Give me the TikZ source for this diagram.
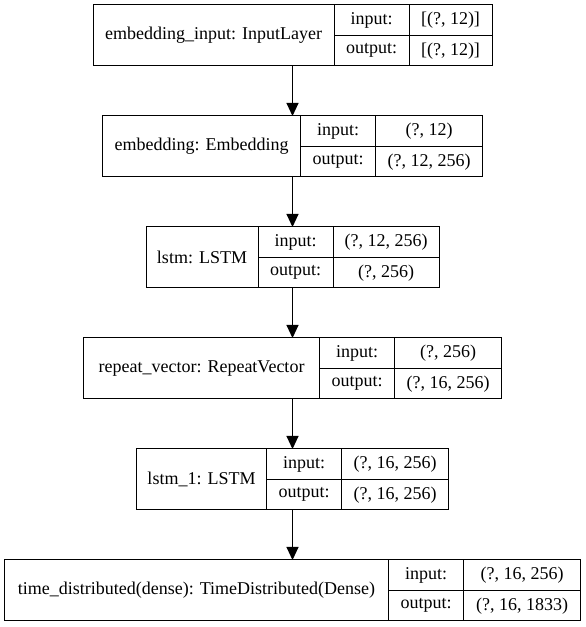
\documentclass[tikz,border=0pt]{standalone}
\usepackage{fontspec}
\setmainfont{Liberation Serif}
\usetikzlibrary{arrows.meta,positioning}

\begin{document}
\begin{tikzpicture}[->,>={Triangle[length=9.75pt,width=9pt]},node distance=37.5pt,
  line width=0.75pt,
  layer/.style={draw,rectangle,inner sep=0pt,outer sep=0pt,minimum height=45.75pt},
  name cell/.style={draw,rectangle,inner sep=0pt,outer sep=0pt,minimum height=45.75pt,font=\fontsize{13.5pt}{16pt}\selectfont},
  key cell/.style={draw,rectangle,inner sep=0pt,outer sep=0pt,minimum width=56.25pt,minimum height=22.875pt,font=\fontsize{13.5pt}{16pt}\selectfont},
  val cell/.style={key cell}]

  \useasboundingbox (0,0) rectangle (438.75pt,470.25pt);

  % embedding_input
  \node[layer, minimum width=299.25pt] (inL) at (219.375pt,443.625pt) {};
  \node[name cell, minimum width=180.75pt, right=0pt of inL.west] (in) {embedding\_input: InputLayer};
  \node[key cell, below right=0pt of in.north east] (inI) {input:};
  \node[key cell, below=0pt of inI] (inO) {output:};
  \node[val cell, minimum width=62.25pt, right=0pt of inI] (inIv) {[(?, 12)]};
  \node[val cell, minimum width=62.25pt, right=0pt of inO] (inOv) {[(?, 12)]};

  % embedding
  \node[layer, minimum width=285pt, below=of inL] (embL) {};
  \node[name cell, minimum width=148.5pt, right=0pt of embL.west] (emb) {embedding: Embedding};
  \node[key cell, below right=0pt of emb.north east] (embI) {input:};
  \node[key cell, below=0pt of embI] (embO) {output:};
  \node[val cell, minimum width=80.25pt, right=0pt of embI] (embIv) {(?, 12)};
  \node[val cell, minimum width=80.25pt, right=0pt of embO] (embOv) {(?, 12, 256)};

  % lstm
  \node[layer, minimum width=219.75pt, below=of embL] (lstmL) {};
  \node[name cell, minimum width=84pt, right=0pt of lstmL.west] (lstm) {lstm: LSTM};
  \node[key cell, below right=0pt of lstm.north east] (lstmI) {input:};
  \node[key cell, below=0pt of lstmI] (lstmO) {output:};
  \node[val cell, minimum width=79.5pt, right=0pt of lstmI] (lstmIv) {(?, 12, 256)};
  \node[val cell, minimum width=79.5pt, right=0pt of lstmO] (lstmOv) {(?, 256)};

  % repeat_vector
  \node[layer, minimum width=313.5pt, below=of lstmL] (repL) {};
  \node[name cell, minimum width=177pt, right=0pt of repL.west] (rep) {repeat\_vector: RepeatVector};
  \node[key cell, below right=0pt of rep.north east] (repI) {input:};
  \node[key cell, below=0pt of repI] (repO) {output:};
  \node[val cell, minimum width=80.25pt, right=0pt of repI] (repIv) {(?, 256)};
  \node[val cell, minimum width=80.25pt, right=0pt of repO] (repOv) {(?, 16, 256)};

  % lstm_1
  \node[layer, minimum width=234pt, below=of repL] (lstmbL) {};
  \node[name cell, minimum width=97.5pt, right=0pt of lstmbL.west] (lstmb) {lstm\_1: LSTM};
  \node[key cell, below right=0pt of lstmb.north east] (lstmbI) {input:};
  \node[key cell, below=0pt of lstmbI] (lstmbO) {output:};
  \node[val cell, minimum width=80.25pt, right=0pt of lstmbI] (lstmbIv) {(?, 16, 256)};
  \node[val cell, minimum width=80.25pt, right=0pt of lstmbO] (lstmbOv) {(?, 16, 256)};

  % time_distributed
  \node[layer, minimum width=432pt, below=of lstmbL] (tdL) {};
  \node[name cell, minimum width=288pt, right=0pt of tdL.west] (td) {time\_distributed(dense): TimeDistributed(Dense)};
  \node[key cell, below right=0pt of td.north east] (tdI) {input:};
  \node[key cell, below=0pt of tdI] (tdO) {output:};
  \node[val cell, minimum width=87.75pt, right=0pt of tdI] (tdIv) {(?, 16, 256)};
  \node[val cell, minimum width=87.75pt, right=0pt of tdO] (tdOv) {(?, 16, 1833)};

  \path (inL) edge (embL)
        (embL) edge (lstmL)
        (lstmL) edge (repL)
        (repL) edge (lstmbL)
        (lstmbL) edge (tdL);
\end{tikzpicture}
\end{document}
